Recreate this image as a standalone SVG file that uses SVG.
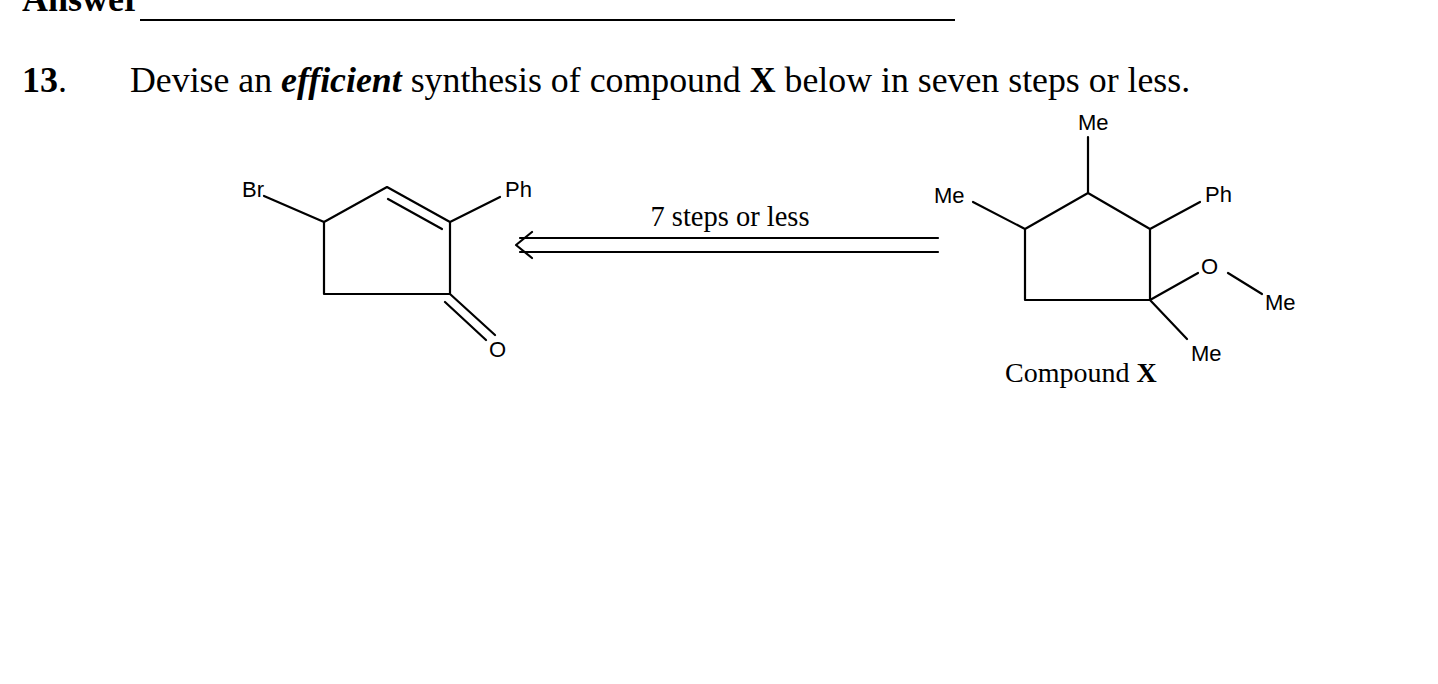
<svg xmlns="http://www.w3.org/2000/svg" width="1438" height="684" viewBox="0 0 1438 684">
<style>
.s{font-family:"Liberation Serif",serif;fill:#000}
.a{font-family:"Liberation Sans",Arial,sans-serif;font-size:22px;fill:#000}
.b{stroke:#000;stroke-width:2.2;fill:none;stroke-linecap:round;stroke-linejoin:round}
</style>
<rect width="1438" height="684" fill="#fff"/>
<g id="header">
<text class="s" x="22" y="11" font-size="36" font-weight="bold">Answer</text>
<line x1="140" y1="20" x2="955" y2="20" stroke="#000" stroke-width="2"/>
<text class="s" x="22" y="92" font-size="36" font-weight="bold">13<tspan font-weight="normal">.</tspan></text>
<text class="s" x="130" y="92" font-size="35.8">Devise an <tspan font-weight="bold" font-style="italic">efficient</tspan> synthesis of compound <tspan font-weight="bold">X</tspan> below in seven steps or less.</text>
</g>
<g id="start">
<path class="b" d="M324,222 L387,187 L450,222 L450,294 L324,294 Z M388,199 L442,229 M264,196 L324,222 M450,222 L500,197 M450,294 L495,335 M445,302 L486,340"/>
<text class="a" x="242" y="197">Br</text>
<text class="a" x="505" y="197">Ph</text>
<text class="a" x="489" y="357">O</text>
</g>
<g id="connectors">
<path class="b" d="M520,238 L938,238 M520,252 L938,252 M532,232 L516,245 L532,258"/>
<text class="s" x="730" y="226" font-size="28.5" text-anchor="middle">7 steps or less</text>
</g>
<g id="compoundX">
<path class="b" d="M1088,193 L1150,229 L1150,300 L1025,300 L1025,229 Z M1088,137 L1088,193 M973,202 L1025,229 M1150,229 L1200,202 M1150,300 L1198,273 M1228,273 L1262,294 M1150,300 L1187,339"/>
<text class="a" x="1078" y="130">Me</text>
<text class="a" x="934" y="203">Me</text>
<text class="a" x="1205" y="202">Ph</text>
<text class="a" x="1201" y="274">O</text>
<text class="a" x="1265" y="310">Me</text>
<text class="a" x="1191" y="361">Me</text>
<text class="s" x="1005" y="382" font-size="28">Compound <tspan font-weight="bold">X</tspan></text>
</g>
</svg>
